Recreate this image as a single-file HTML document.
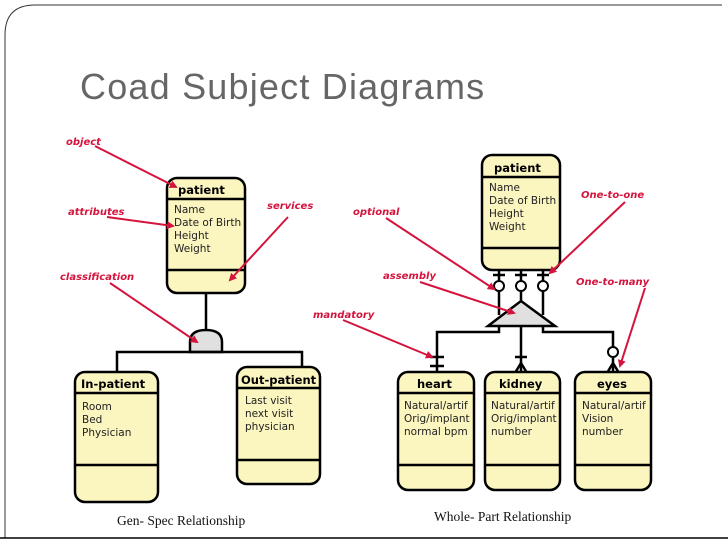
<!DOCTYPE html>
<html><head><meta charset="utf-8"><style>
html,body{margin:0;padding:0;background:#fff;}
svg{display:block;}
.b{font-family:"DejaVu Sans","Liberation Sans",sans-serif;font-weight:bold;font-size:11.5px;fill:#000;}
.a{font-family:"DejaVu Sans","Liberation Sans",sans-serif;font-size:10.5px;fill:#222;}
.r{font-family:"DejaVu Sans","Liberation Sans",sans-serif;font-style:italic;font-weight:bold;font-size:10px;fill:#d4143c;}
.box{fill:#fbf5c0;stroke:#000;stroke-width:2.5;}
.ln{stroke:#000;stroke-width:2.5;fill:none;}
.ar{stroke:#d4143c;stroke-width:2;fill:none;marker-end:url(#m);}
</style></head><body>
<svg width="728" height="546" viewBox="0 0 728 546" xmlns="http://www.w3.org/2000/svg">
<defs><marker id="m" markerWidth="8" markerHeight="8" refX="6" refY="4" orient="auto" markerUnits="userSpaceOnUse"><path d="M0,0 L8,4 L0,8 z" fill="#d4143c"/></marker></defs>
<path d="M5,538 L5,35 Q5,5 35,5 L722,5" fill="none" stroke="#333" stroke-width="1"/>
<line x1="0" y1="538" x2="728" y2="538" stroke="#000" stroke-width="1.5"/>
<text x="80" y="99" font-family="Liberation Sans,sans-serif" font-size="36" letter-spacing="1.2" fill="#666">Coad Subject Diagrams</text>

<!-- left patient -->
<rect class="box" x="167" y="178" width="78" height="115" rx="10"/>
<line class="ln" x1="167" y1="199" x2="245" y2="199"/>
<line class="ln" x1="167" y1="270" x2="245" y2="270"/>
<text class="b" x="178" y="194">patient</text>
<text class="a" x="174" y="213">Name</text><text class="a" x="174" y="226">Date of Birth</text><text class="a" x="174" y="239">Height</text><text class="a" x="174" y="252">Weight</text>
<line class="ln" x1="206" y1="293" x2="206" y2="332"/>
<path d="M190,352 L190,342 Q190,330 206,330 Q222,330 222,342 L222,352 z" fill="#e0e0e0" stroke="#000" stroke-width="2.5"/>
<path class="ln" d="M117,372 L117,352 L302,352 L302,367"/>

<rect class="box" x="75" y="372" width="83" height="130" rx="10"/>
<line class="ln" x1="75" y1="393" x2="158" y2="393"/>
<line class="ln" x1="75" y1="465" x2="158" y2="465"/>
<text class="b" x="81" y="388">In-patient</text>
<text class="a" x="82" y="410">Room</text><text class="a" x="82" y="423">Bed</text><text class="a" x="82" y="436">Physician</text>

<rect class="box" x="237" y="367" width="83" height="117" rx="10"/>
<line class="ln" x1="237" y1="388" x2="320" y2="388"/>
<line class="ln" x1="237" y1="460" x2="320" y2="460"/>
<text class="b" x="241" y="384">Out-patient</text>
<text class="a" x="245" y="404">Last visit</text><text class="a" x="245" y="417">next visit</text><text class="a" x="245" y="430">physician</text>

<!-- right patient -->
<rect class="box" x="482" y="155" width="78" height="115" rx="10"/>
<line class="ln" x1="482" y1="177" x2="560" y2="177"/>
<line class="ln" x1="482" y1="248" x2="560" y2="248"/>
<text class="b" x="494" y="172">patient</text>
<text class="a" x="489" y="191">Name</text><text class="a" x="489" y="204">Date of Birth</text><text class="a" x="489" y="217">Height</text><text class="a" x="489" y="230">Weight</text>
<g class="ln">
<line x1="499" y1="270" x2="499" y2="315"/><line x1="521" y1="270" x2="521" y2="305"/><line x1="543" y1="270" x2="543" y2="315"/>
<line x1="493" y1="275" x2="505" y2="275"/><line x1="515" y1="275" x2="527" y2="275"/><line x1="537" y1="275" x2="549" y2="275"/>
</g>
<g fill="#fff" stroke="#000" stroke-width="2"><circle cx="499" cy="286" r="5"/><circle cx="521" cy="286" r="5"/><circle cx="543" cy="286" r="5"/></g>
<path d="M521,301 L555,326 L488,326 z" fill="#e0e0e0" stroke="#000" stroke-width="2.5"/>
<path class="ln" d="M499,326 L499,332 L437,332 L437,372"/>
<path class="ln" d="M521,326 L521,372"/>
<path class="ln" d="M543,326 L543,332 L613,332 L613,372"/>
<g class="ln"><line x1="430" y1="357" x2="444" y2="357"/><line x1="430" y1="366" x2="444" y2="366"/>
<line x1="515" y1="357" x2="527" y2="357"/><path d="M515,373 L521,363 L527,373"/>
<path d="M607,373 L613,363 L619,373"/></g>
<circle cx="613" cy="352" r="5" fill="#fff" stroke="#000" stroke-width="2"/>

<rect class="box" x="398" y="372" width="76" height="118" rx="10"/>
<line class="ln" x1="398" y1="393" x2="474" y2="393"/><line class="ln" x1="398" y1="465" x2="474" y2="465"/>
<text class="b" x="417" y="388">heart</text>
<text class="a" x="404" y="409">Natural/artif</text><text class="a" x="404" y="422">Orig/implant</text><text class="a" x="404" y="435">normal bpm</text>

<rect class="box" x="485" y="372" width="75" height="118" rx="10"/>
<line class="ln" x1="485" y1="393" x2="560" y2="393"/><line class="ln" x1="485" y1="465" x2="560" y2="465"/>
<text class="b" x="499" y="388">kidney</text>
<text class="a" x="491" y="409">Natural/artif</text><text class="a" x="491" y="422">Orig/implant</text><text class="a" x="491" y="435">number</text>

<rect class="box" x="575" y="372" width="76" height="118" rx="10"/>
<line class="ln" x1="575" y1="393" x2="651" y2="393"/><line class="ln" x1="575" y1="465" x2="651" y2="465"/>
<text class="b" x="597" y="388">eyes</text>
<text class="a" x="582" y="409">Natural/artif</text><text class="a" x="582" y="422">Vision</text><text class="a" x="582" y="435">number</text>

<!-- red labels -->
<text class="r" x="66" y="145">object</text>
<text class="r" x="68" y="215">attributes</text>
<text class="r" x="60" y="280">classification</text>
<text class="r" x="267" y="209">services</text>
<text class="r" x="353" y="215">optional</text>
<text class="r" x="383" y="279">assembly</text>
<text class="r" x="313" y="318">mandatory</text>
<text class="r" x="581" y="198">One-to-one</text>
<text class="r" x="576" y="285">One-to-many</text>
<line class="ar" x1="95" y1="146" x2="176" y2="187"/>
<line class="ar" x1="107" y1="217" x2="173" y2="226"/>
<line class="ar" x1="110" y1="283" x2="197" y2="342"/>
<line class="ar" x1="288" y1="217" x2="230" y2="280"/>
<line class="ar" x1="386" y1="218" x2="494" y2="289"/>
<line class="ar" x1="420" y1="282" x2="514" y2="313"/>
<line class="ar" x1="343" y1="320" x2="432" y2="357"/>
<line class="ar" x1="625" y1="202" x2="550" y2="273"/>
<line class="ar" x1="645" y1="288" x2="620" y2="366"/>

<text x="117" y="525" font-family="Liberation Serif,serif" font-size="13.5" fill="#111">Gen- Spec Relationship</text>
<text x="434" y="521" font-family="Liberation Serif,serif" font-size="13.5" fill="#111">Whole- Part Relationship</text>
</svg>
</body></html>
